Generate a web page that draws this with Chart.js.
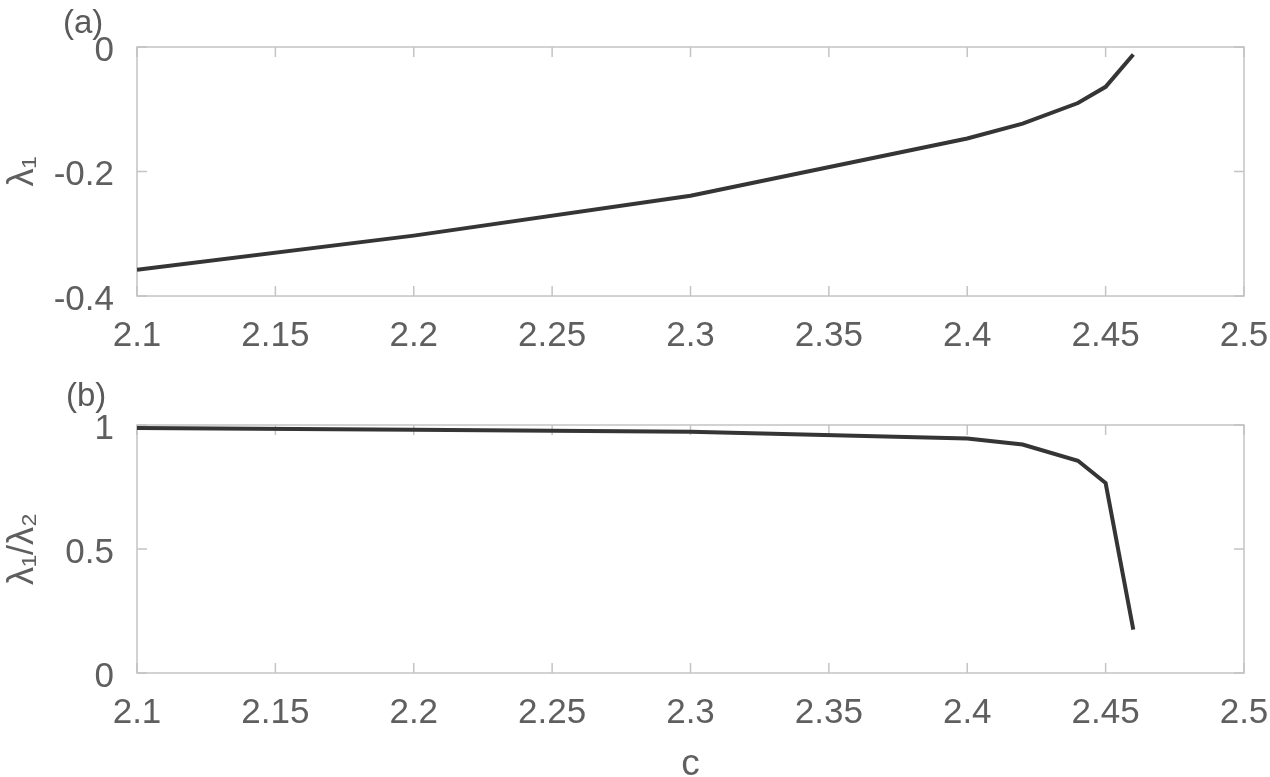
<!DOCTYPE html>
<html>
<head>
<meta charset="utf-8">
<script src="https://cdn.jsdelivr.net/npm/chart.js@4.4.1/dist/chart.umd.min.js"></script>
<style>
  html, body { margin: 0; padding: 0; background: #fff; }
  body { width: 1270px; height: 777px; position: relative; overflow: hidden; font-family: "Liberation Sans", Arial, sans-serif; }
  .panel { position: absolute; left: 0; width: 1270px; }
  .lbl { position: absolute; font-size: 33px; line-height: 1; color: #5a5a5a; font-family: "Liberation Sans", Arial, sans-serif; }
</style>
</head>
<body>
<div class="panel" style="top:0;height:380px;"><canvas id="ca" width="1270" height="380"></canvas></div>
<div class="panel" style="top:380px;height:403px;"><canvas id="cb" width="1270" height="403"></canvas></div>
<div class="lbl" style="left:63px;top:5px;">(a)</div>
<div class="lbl" style="left:66px;top:378px;">(b)</div>
<script>
// ---- data ----
const cValues = [2.1, 2.2, 2.3, 2.4, 2.42, 2.44, 2.45, 2.46];
const lambda1 = [-0.358, -0.303, -0.239, -0.147, -0.123, -0.090, -0.064, -0.012];
const ratio12 = [0.988, 0.981, 0.973, 0.946, 0.921, 0.856, 0.766, 0.175];

const xTicks = [2.1, 2.15, 2.2, 2.25, 2.3, 2.35, 2.4, 2.45, 2.5];
const xTickLabels = ['2.1', '2.15', '2.2', '2.25', '2.3', '2.35', '2.4', '2.45', '2.5'];
const yTicksA = [-0.4, -0.2, 0];
const yTickLabelsA = ['-0.4', '-0.2', '0'];
const yTicksB = [0, 0.5, 1];
const yTickLabelsB = ['0', '0.5', '1'];

const FONT = "'Liberation Sans', Arial, sans-serif";
const TXT = '#5f5f5f';
const AXC = '#c4c4c4';

const boxPlugin = {
  id: 'matlabBox',
  beforeDatasetsDraw(chart) {
    const {ctx, chartArea: a, scales} = chart;
    ctx.save();
    ctx.strokeStyle = AXC;
    ctx.lineWidth = 1.5;
    ctx.strokeRect(a.left, a.top, a.right - a.left, a.bottom - a.top);
    const L = 10;
    ctx.beginPath();
    scales.x.ticks.forEach(t => {
      const px = scales.x.getPixelForValue(t.value);
      ctx.moveTo(px, a.bottom); ctx.lineTo(px, a.bottom - L);
      ctx.moveTo(px, a.top); ctx.lineTo(px, a.top + L);
    });
    scales.y.ticks.forEach(t => {
      const py = scales.y.getPixelForValue(t.value);
      ctx.moveTo(a.left, py); ctx.lineTo(a.left + L, py);
      ctx.moveTo(a.right, py); ctx.lineTo(a.right - L, py);
    });
    ctx.stroke();
    ctx.restore();
  }
};

function makeChart(id, yVals, yMin, yMax, yTicks, yLabels, yTitle, xTitle, padTop, xHeight) {
  const pts = cValues.map((c, i) => ({x: c, y: yVals[i]}));
  return new Chart(document.getElementById(id), {
    type: 'line',
    data: { datasets: [{ data: pts, borderColor: '#353535', borderWidth: 4, pointRadius: 0, tension: 0, fill: false }] },
    options: {
      responsive: false, animation: false,
      layout: { padding: { top: padTop, right: 26, left: 0, bottom: 0 } },
      plugins: { legend: { display: false }, tooltip: { enabled: false }, title: { display: false } },
      scales: {
        x: {
          type: 'linear', min: 2.1, max: 2.5,
          afterBuildTicks: s => { s.ticks = xTicks.map(v => ({value: v})); },
          afterFit: s => { s.height = xHeight; s.paddingLeft = 0; s.paddingRight = 0; },
          grid: { display: false }, border: { display: false },
          ticks: { color: TXT, font: { family: FONT, size: 35 }, padding: 11, maxRotation: 0, autoSkip: false,
                   callback: (v) => { const i = xTicks.findIndex(t => Math.abs(t - v) < 1e-9); return i >= 0 ? xTickLabels[i] : ''; } },
          title: { display: !!xTitle, text: xTitle || '', color: TXT, font: { family: FONT, size: 37, lineHeight: 1 }, padding: { top: 0, bottom: 0 } }
        },
        y: {
          type: 'linear', min: yMin, max: yMax,
          afterBuildTicks: s => { s.ticks = yTicks.map(v => ({value: v})); },
          afterFit: s => { s.width = 137; s.paddingTop = 0; s.paddingBottom = 0; },
          grid: { display: false }, border: { display: false },
          ticks: { color: TXT, font: { family: FONT, size: 35 }, padding: 15, labelOffset: 4,
                   callback: (v) => { const i = yTicks.findIndex(t => Math.abs(t - v) < 1e-9); return i >= 0 ? yLabels[i] : ''; } },
          title: { display: true, text: yTitle, color: TXT, font: { family: FONT, size: 36, lineHeight: 1.2 }, padding: { top: 1, bottom: 0 } }
        }
      }
    },
    plugins: [boxPlugin]
  });
}

makeChart('ca', lambda1, -0.4, 0, yTicksA, yTickLabelsA, 'λ₁', null, 47, 84);
makeChart('cb', ratio12, 0, 1, yTicksB, yTickLabelsB, 'λ₁/λ₂', 'c', 45, 110);
</script>
</body>
</html>
